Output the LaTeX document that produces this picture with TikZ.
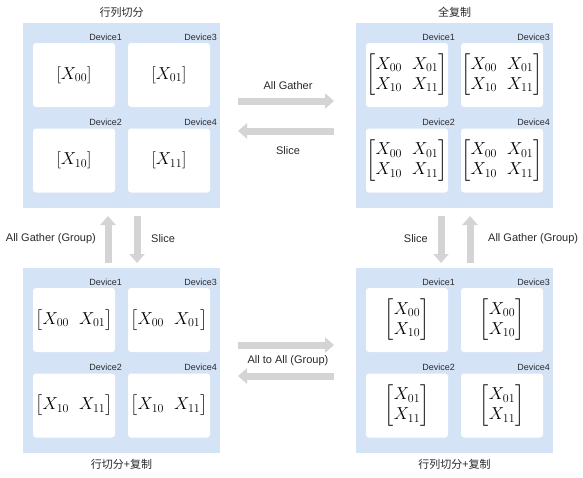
\documentclass[tikz,border=0pt]{standalone}
\usepackage{amsmath}
\usepackage{fontspec}
\newfontfamily\lab{Liberation Sans}
\newfontfamily\cjk{Noto Sans CJK SC}
\usetikzlibrary{arrows.meta}
\definecolor{panelblue}{HTML}{D5E3F7}
\definecolor{arrowgray}{HTML}{D4D4D4}
\definecolor{txt}{HTML}{2A2A2A}
\newcommand\drawpanel[7]{%
  \node[panel] (#1) at (#2,#3) {};
  \node[devbox] (#1-d1) at ([shift={(-47.5,-40.5)}]#1.center) {$#4$};
  \node[devbox] (#1-d3) at ([shift={(47.5,-40.5)}]#1.center) {$#5$};
  \node[devbox] (#1-d2) at ([shift={(-47.5,45)}]#1.center) {$#6$};
  \node[devbox] (#1-d4) at ([shift={(47.5,45)}]#1.center) {$#7$};
  \node[devlabel] (#1-l1) at ([shift={(7,-2.5)}]#1-d1.north east) {Device1};
  \node[devlabel] (#1-l3) at ([shift={(7,-2.5)}]#1-d3.north east) {Device3};
  \node[devlabel] (#1-l2) at ([shift={(7,-2.5)}]#1-d2.north east) {Device2};
  \node[devlabel] (#1-l4) at ([shift={(7,-2.5)}]#1-d4.north east) {Device4};
}
\begin{document}
\begin{tikzpicture}[x=1pt,y=-1pt,
 panel/.style={fill=panelblue, draw=none, minimum width=197pt, minimum height=185pt, inner sep=0pt},
 devbox/.style={fill=white, rounded corners=3pt, minimum width=82pt, minimum height=64pt, inner sep=0pt, font=\fontsize{17}{20}\selectfont},
 devlabel/.style={font=\lab\fontsize{9}{10}\selectfont, text=txt, anchor=base east, inner sep=0pt},
 title/.style={font=\cjk\fontsize{11}{13}\selectfont, text=txt},
 oplabel/.style={font=\lab\fontsize{11}{13}\selectfont, text=txt, inner sep=0pt},
 bigarrow/.style={draw=arrowgray, line width=7pt, -{Triangle[width=15pt,length=9pt]}}
]
\useasboundingbox (0,0) rectangle (583,477);
\fill[white] (0,0) rectangle (583,477);

\drawpanel{tl}{121.5}{115.5}{\left[X_{00}\right]}{\left[X_{01}\right]}{\left[X_{10}\right]}{\left[X_{11}\right]}
\drawpanel{tr}{454.5}{115.5}%
 {\begin{bmatrix}X_{00} & X_{01}\\ X_{10} & X_{11}\end{bmatrix}}%
 {\begin{bmatrix}X_{00} & X_{01}\\ X_{10} & X_{11}\end{bmatrix}}%
 {\begin{bmatrix}X_{00} & X_{01}\\ X_{10} & X_{11}\end{bmatrix}}%
 {\begin{bmatrix}X_{00} & X_{01}\\ X_{10} & X_{11}\end{bmatrix}}
\drawpanel{bl}{121.5}{360.5}%
 {\begin{bmatrix}X_{00} & X_{01}\end{bmatrix}}%
 {\begin{bmatrix}X_{00} & X_{01}\end{bmatrix}}%
 {\begin{bmatrix}X_{10} & X_{11}\end{bmatrix}}%
 {\begin{bmatrix}X_{10} & X_{11}\end{bmatrix}}
\drawpanel{br}{454.5}{360.5}%
 {\begin{bmatrix}X_{00}\\ X_{10}\end{bmatrix}}%
 {\begin{bmatrix}X_{00}\\ X_{10}\end{bmatrix}}%
 {\begin{bmatrix}X_{01}\\ X_{11}\end{bmatrix}}%
 {\begin{bmatrix}X_{01}\\ X_{11}\end{bmatrix}}

% titles
\node[title] (ttl) at (121.5,12) {行列切分};
\node[title] (ttr) at (454.5,12) {全复制};
\node[title] (tbl) at (121.5,464) {行切分+复制};
\node[title] (tbr) at (454.5,464) {行列切分+复制};

% arrow end points
\coordinate (ag1) at (238,101); \coordinate (ag2) at (334,101);
\coordinate (sl1) at (334,131); \coordinate (sl2) at (238,131);
\coordinate (aa1) at (238,345); \coordinate (aa2) at (334,345);
\coordinate (ab1) at (334,376); \coordinate (ab2) at (238,376);
\coordinate (lu1) at (108,263); \coordinate (lu2) at (108,216);
\coordinate (ld1) at (137,216); \coordinate (ld2) at (137,263);
\coordinate (rd1) at (441,216); \coordinate (rd2) at (441,263);
\coordinate (ru1) at (470,263); \coordinate (ru2) at (470,216);

\draw[bigarrow] (ag1) -- (ag2);
\draw[bigarrow] (sl1) -- (sl2);
\draw[bigarrow] (aa1) -- (aa2);
\draw[bigarrow] (ab1) -- (ab2);
\draw[bigarrow] (lu1) -- (lu2);
\draw[bigarrow] (ld1) -- (ld2);
\draw[bigarrow] (rd1) -- (rd2);
\draw[bigarrow] (ru1) -- (ru2);

\node[oplabel] (lag) at (288,86) {All Gather};
\node[oplabel] (lsl) at (288,151) {Slice};
\node[oplabel] (laa) at (288,361) {All to All (Group)};
\node[oplabel, anchor=east] (llg) at (96,239) {All Gather (Group)};
\node[oplabel, anchor=west] (lls) at (151,239) {Slice};
\node[oplabel, anchor=east] (lrs) at (428,239) {Slice};
\node[oplabel, anchor=west] (lrg) at (488,239) {All Gather (Group)};
\end{tikzpicture}
\end{document}
